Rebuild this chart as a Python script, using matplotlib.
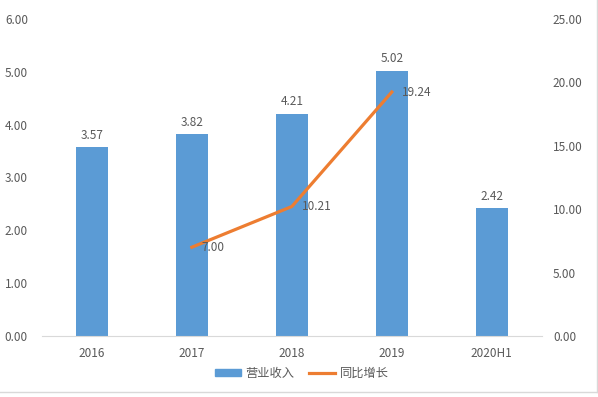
import matplotlib
matplotlib.use("Agg")
import matplotlib.pyplot as plt
from matplotlib.lines import Line2D
from matplotlib.patches import Patch

plt.rcParams["font.family"] = ["Noto Sans CJK SC", "DejaVu Sans"]

categories = ["2016", "2017", "2018", "2019", "2020H1"]
revenue = [3.57, 3.82, 4.21, 5.02, 2.42]
growth_cats = ["2017", "2018", "2019"]
growth = [7.00, 10.21, 19.24]

BLUE = "#5B9BD5"
ORANGE = "#ED7D31"
TXT = "#595959"

fig = plt.figure(figsize=(5.98, 3.97), dpi=100)
ax = fig.add_axes([0.070, 0.1537, 0.836, 0.7985])
x = list(range(len(categories)))
ax.bar(x, revenue, width=0.32, color=BLUE, zorder=2)
for xi, v in zip(x, revenue):
    ax.annotate(f"{v:.2f}", (xi, v), xytext=(0, 4), textcoords="offset points",
                ha="center", va="bottom", fontsize=8.5, color=TXT)
ax.set_xlim(-0.5, len(categories) - 0.5)
ax.set_ylim(0, 6)
ax.set_yticks([0, 1, 2, 3, 4, 5, 6])
ax.set_yticklabels([f"{t:.2f}" for t in range(7)])
ax.set_xticks(x)
ax.set_xticklabels(categories)
ax.tick_params(length=0, labelsize=8.5, colors=TXT)
ax.tick_params(axis="y", pad=10)
ax.tick_params(axis="x", pad=8)
for s in ["top", "right", "left"]:
    ax.spines[s].set_visible(False)
ax.spines["bottom"].set_color("#D9D9D9")

ax2 = ax.twinx()
gx = [categories.index(c) for c in growth_cats]
ax2.plot(gx, growth, color=ORANGE, lw=2.3, zorder=3)
for xi, v in zip(gx, growth):
    ax2.annotate(f"{v:.2f}", (xi, v), xytext=(7, 0), textcoords="offset points",
                 ha="left", va="center", fontsize=8.5, color=TXT)
ax2.set_ylim(0, 25)
ax2.set_yticks([0, 5, 10, 15, 20, 25])
ax2.set_yticklabels([f"{t:.2f}" for t in [0, 5, 10, 15, 20, 25]])
ax2.tick_params(length=0, labelsize=8.5, colors=TXT, pad=8)
for s in ["top", "right", "left", "bottom"]:
    ax2.spines[s].set_visible(False)

handles = [Patch(color=BLUE), Line2D([0], [0], color=ORANGE, lw=2.3)]
fig.legend(handles, ["营业收入", "同比增长"], loc="center", bbox_to_anchor=(0.505, 0.06),
           ncol=2, frameon=False, fontsize=8.8, labelcolor=TXT,
           handlelength=2.1, handleheight=0.55, columnspacing=1.2, handletextpad=0.4)

# light chart frame visible at the bottom and right edges
fig.add_artist(Line2D([0, 0.998], [0.0126, 0.0126], transform=fig.transFigure,
                      color="#D9D9D9", lw=1))
fig.add_artist(Line2D([0.998, 0.998], [0.0126, 1], transform=fig.transFigure,
                      color="#D9D9D9", lw=1))

fig.savefig("out.png", dpi=100)
